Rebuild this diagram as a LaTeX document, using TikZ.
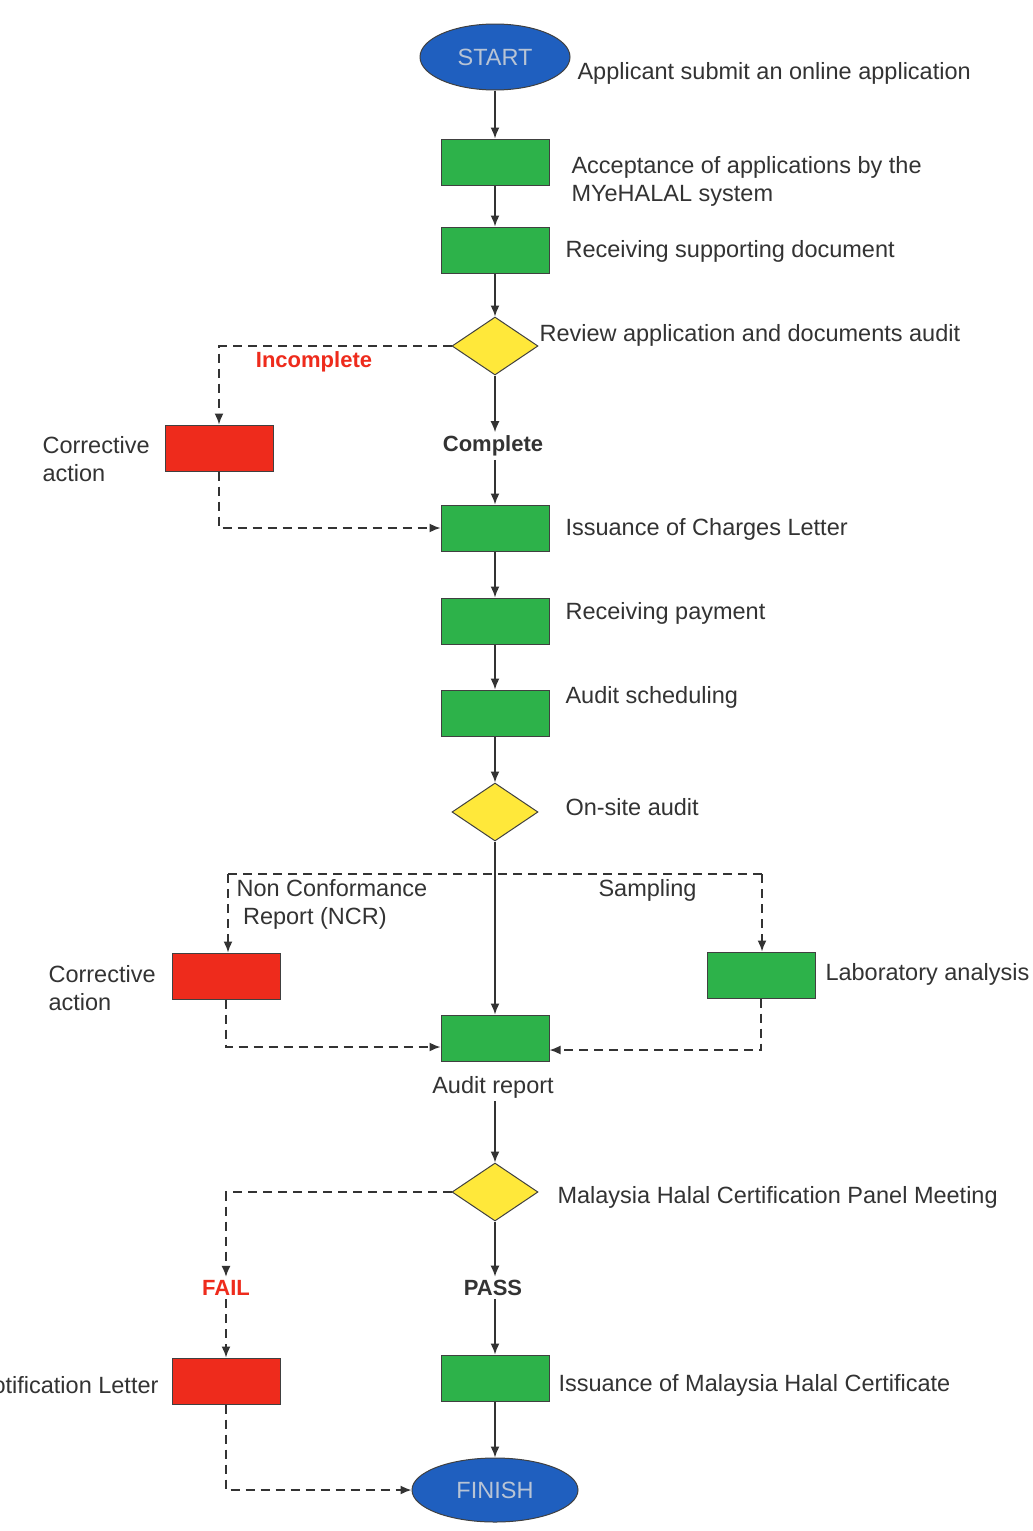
\documentclass[tikz,border=0pt]{standalone}
\usepackage{fontspec}
\setmainfont{Liberation Sans}
\usetikzlibrary{shapes.geometric,arrows.meta}
\definecolor{gb}{HTML}{2DB24A}
\definecolor{rb}{HTML}{EE2B1C}
\definecolor{yb}{HTML}{FFE83A}
\definecolor{bb}{HTML}{1F5FBF}
\definecolor{tx}{HTML}{333333}
\begin{document}
\begin{tikzpicture}[x=1pt,y=-1pt,
  every node/.style={font=\fontsize{23.5}{28}\selectfont, text=tx},
  box/.style={draw=black!75, line width=1pt, minimum width=108pt, minimum height=46pt, inner sep=0pt},
  g/.style={box, fill=gb}, r/.style={box, fill=rb},
  dia/.style={diamond, draw=black!75, fill=yb, line width=1pt, minimum width=86pt, minimum height=58pt, inner sep=0pt, aspect=1.5},
  ell/.style={ellipse, draw=black!75, fill=bb, line width=1pt, minimum width=150pt, minimum height=66pt, text=black!40!bb!30!white},
  lbl/.style={anchor=west, align=left},
  arr/.style={draw=black!80, line width=1.6pt, -{Latex[length=11pt,width=9pt]}},
  dsh/.style={arr, dash pattern=on 9pt off 6pt},
  ln/.style={draw=black!80, line width=1.6pt},
  dln/.style={ln, dash pattern=on 9pt off 6pt},
  bold/.style={font=\fontsize{22}{25}\selectfont\bfseries}]
\useasboundingbox (0,0) rectangle (1033,1531);
\fill[white] (0,0) rectangle (1033,1531);
\node[ell] (start) at (495,57) {START};
\node[lbl] at (574,73) {Applicant submit an online application};
\node[g] (b1) at (495,162) {};
\node[lbl] at (568,181) {Acceptance of applications by the\\MYeHALAL system};
\node[g] (b2) at (495,250) {};
\node[lbl] at (562,251) {Receiving supporting document};
\node[dia] (d1) at (495,346) {};
\node[lbl] at (536,335) {Review application and documents audit};
\node[r] (c1) at (219,448) {};
\node[lbl] at (39,459) {Corrective\\action};
\node[bold, text=rb] (inc) at (314,362) {Incomplete};
\node[bold] (comp) at (493,446) {Complete};
\node[g] (b3) at (495,528) {};
\node[lbl] at (562,529) {Issuance of Charges Letter};
\node[g] (b4) at (495,621) {};
\node[lbl] at (562,613) {Receiving payment};
\node[g] (b5) at (495,713) {};
\node[lbl] at (562,697) {Audit scheduling};
\node[dia] (d2) at (495,812) {};
\node[lbl] at (562,807) {On-site audit};
\node[lbl] at (233,904) {Non Conformance\\\ Report (NCR)};
\node[lbl] at (595,890) {Sampling};
\node[r] (c2) at (226,976) {};
\node[lbl] at (45,988) {Corrective\\action};
\node[g] (lab) at (761,975) {};
\node[lbl] at (822,974) {Laboratory analysis};
\node[g] (b6) at (495,1038) {};
\node (ar) at (493,1087) {Audit report};
\node[dia] (d3) at (495,1192) {};
\node[lbl] at (554,1197) {Malaysia Halal Certification Panel Meeting};
\node[bold, text=rb] (fail) at (226,1288) {FAIL};
\node[bold] (pass) at (493,1288) {PASS};
\node[r] (c3) at (226,1381) {};
\node[anchor=east] at (162,1385) {Notification Letter};
\node[g] (b7) at (495,1378) {};
\node[lbl] at (555,1385) {Issuance of Malaysia Halal Certificate};
\node[ell, minimum width=166pt, minimum height=64pt] (fin) at (495,1490) {FINISH};
\draw[arr] (start) -- (b1);
\draw[arr] (b1) -- (b2);
\draw[arr] (b2) -- (d1);
\draw[arr] (d1.south) -- (d1.south |- comp.north);
\draw[arr] (b3.north |- comp.south) -- (b3.north);
\draw[dsh] (d1.west) -| (c1.north);
\draw[dsh] (c1.south) |- (b3.west);
\draw[arr] (b3) -- (b4);
\draw[arr] (b4) -- (b5);
\draw[arr] (b5) -- (d2);
\draw[arr] (d2) -- (b6);
\coordinate (nl) at (228,874); \coordinate (nr) at (762,874);
\draw[dln] (nl) -- (nr);
\draw[dsh] (nl) -- (c2.north -| nl);
\draw[dsh] (nr) -- (lab.north -| nr);
\draw[dsh] (c2.south) |- ([yshift=-9pt]b6.west);
\draw[dsh] (lab.south) |- ([yshift=-12pt]b6.east);
\draw[arr] (d3.north |- ar.south) -- (d3.north);
\draw[dsh] (d3.west) -| (fail.north);
\draw[dsh] (fail) -- (c3);
\draw[arr] (d3.south) -- (d3.south |- pass.north);
\draw[arr] (b7.north |- pass.south) -- (b7.north);
\draw[arr] (b7) -- (fin);
\draw[dsh] (c3.south) |- (fin.west);
\end{tikzpicture}
\end{document}
